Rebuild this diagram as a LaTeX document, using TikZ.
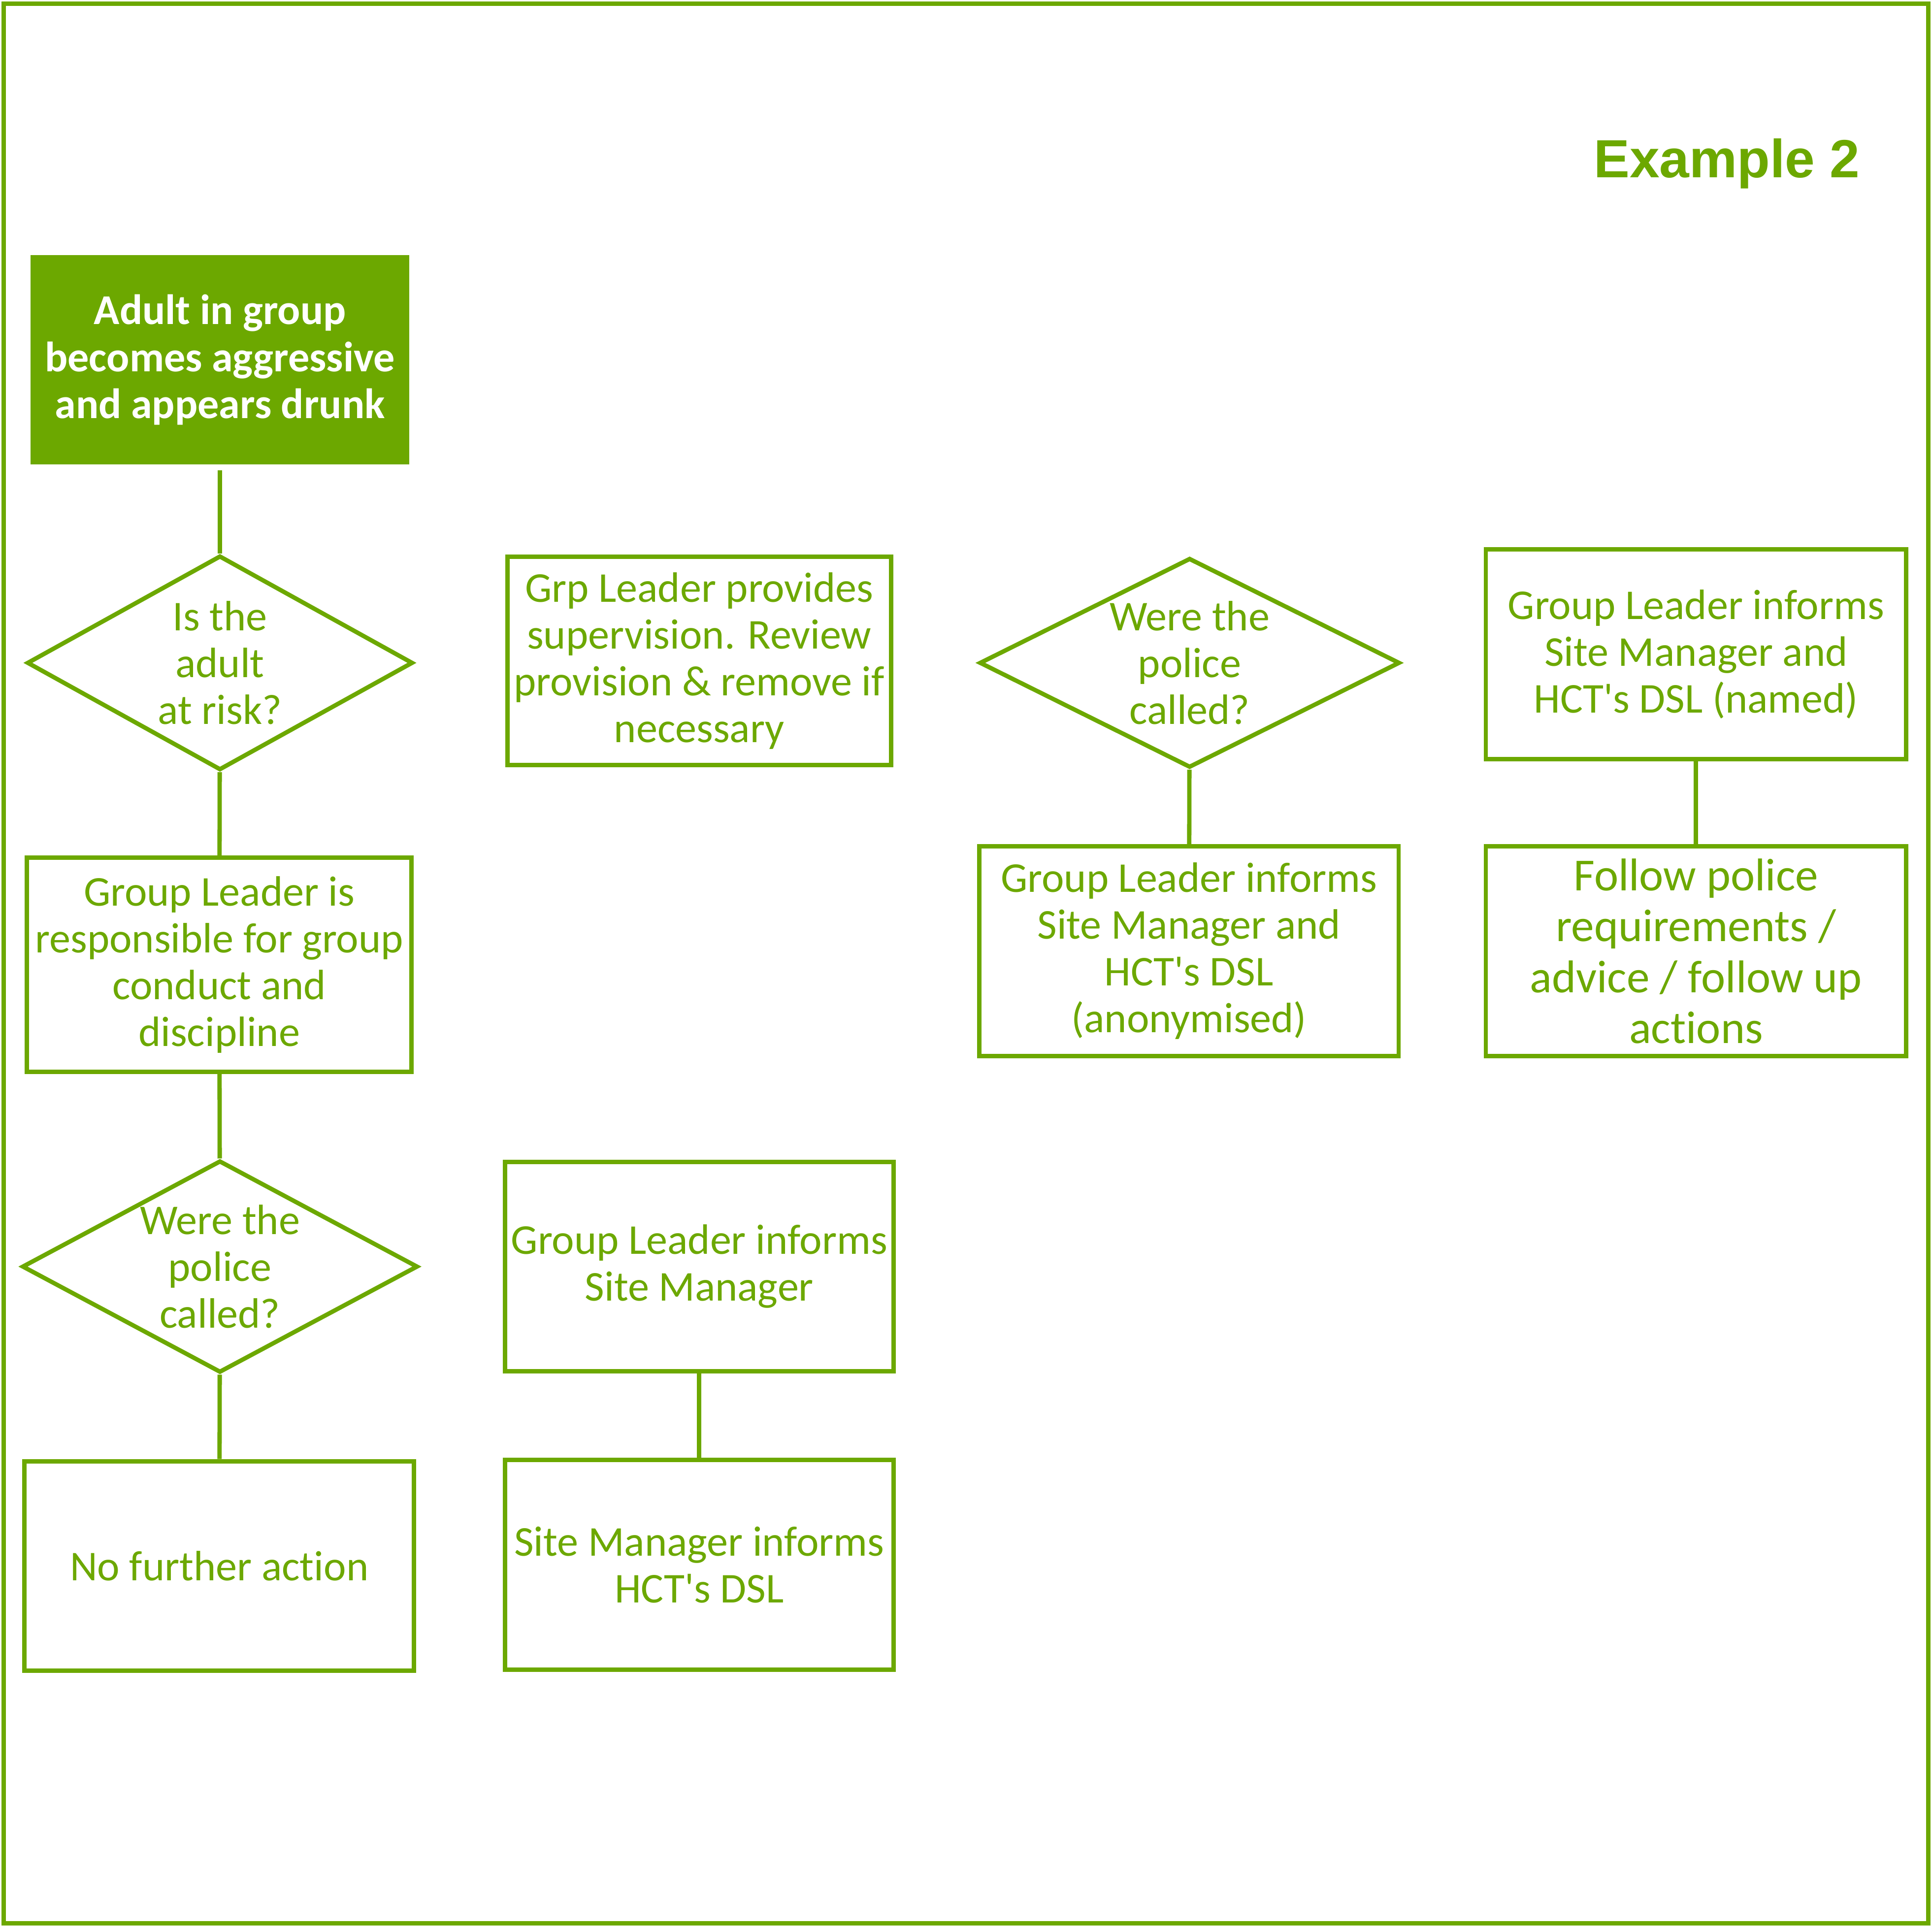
\documentclass[tikz,border=0pt]{standalone}
\usepackage{fontspec}
\setmainfont{Carlito}[Ligatures={TeXOff,NoCommon}]
\newfontfamily\titlefont{Liberation Sans}
\usetikzlibrary{shapes.geometric}
\definecolor{grn}{RGB}{108,168,0}
\begin{document}
\begin{tikzpicture}[x=0.01cm,y=-0.01cm,
  lw/.style={line width=1pt},
  txt/.style={text=grn,align=center,inner sep=0pt,font=\fontsize{9.8}{10.8}\selectfont},
  box/.style={txt,draw=grn,lw,rectangle},
  dia/.style={draw=grn,lw,diamond,inner sep=0pt},
  conn/.style={draw=grn,lw}]
\useasboundingbox (0,0) rectangle (1568,1564);
\draw[grn,lw] (3,3) rectangle (1565,1561);
\node[text=grn,font=\titlefont\bfseries\fontsize{12.4}{14}\selectfont,anchor=base,inner sep=0pt] (title) at (1401.5,144) {Example 2};

\node[txt,fill=grn,text=white,font=\bfseries\fontsize{9.8}{10.8}\selectfont,minimum width=3.07cm,minimum height=1.70cm] (start) at (178.5,292) {Adult in group\\becomes aggressive\\and appears drunk};

\node[dia,minimum width=3.13cm,minimum height=1.74cm] (d1) at (178.5,538) {};
\node[txt] (d1t) at (d1) {Is the\\adult\\at risk?};

\node[box,minimum width=3.12cm,minimum height=1.74cm] (resp) at (178,783) {Group Leader is\\responsible for group\\conduct and\\discipline};

\node[dia,minimum width=3.21cm,minimum height=1.72cm] (d2) at (178.5,1028) {};
\node[txt] (d2t) at (d2) {Were the\\police\\called?};

\node[box,minimum width=3.16cm,minimum height=1.70cm] (nfa) at (178,1271) {No further action};

\node[box,minimum width=3.11cm,minimum height=1.69cm] (grp) at (567.5,536.5) {Grp Leader provides\\supervision. Review\\provision \& remove if\\necessary};

\node[box,minimum width=3.15cm,minimum height=1.70cm] (glsm) at (567.5,1028) {Group Leader informs\\Site Manager};
\node[box,minimum width=3.15cm,minimum height=1.70cm] (smdsl) at (567.5,1270) {Site Manager informs\\HCT's DSL};

\node[dia,minimum width=3.41cm,minimum height=1.70cm] (d3) at (965.5,538) {};
\node[txt] (d3t) at (d3) {Were the\\police\\called?};

\node[box,minimum width=3.40cm,minimum height=1.70cm] (anon) at (965,772) {Group Leader informs\\Site Manager and\\HCT's DSL\\(anonymised)};

\node[box,minimum width=3.41cm,minimum height=1.70cm] (named) at (1376.5,531) {Group Leader informs\\Site Manager and\\HCT's DSL (named)};
\node[box,font=\fontsize{10.6}{11.75}\selectfont,minimum width=3.41cm,minimum height=1.70cm] (follow) at (1376.5,772) {Follow police\\requirements /\\advice / follow up\\actions};

\draw[conn,shorten <=1.1pt] (start) -- (d1);
\draw[conn] (d1) -- (resp);
\draw[conn] (resp) -- (d2);
\draw[conn] (d2) -- (nfa);
\draw[conn] (glsm) -- (smdsl);
\draw[conn] (d3) -- (anon);
\draw[conn] (named) -- (follow);
\end{tikzpicture}
\end{document}
